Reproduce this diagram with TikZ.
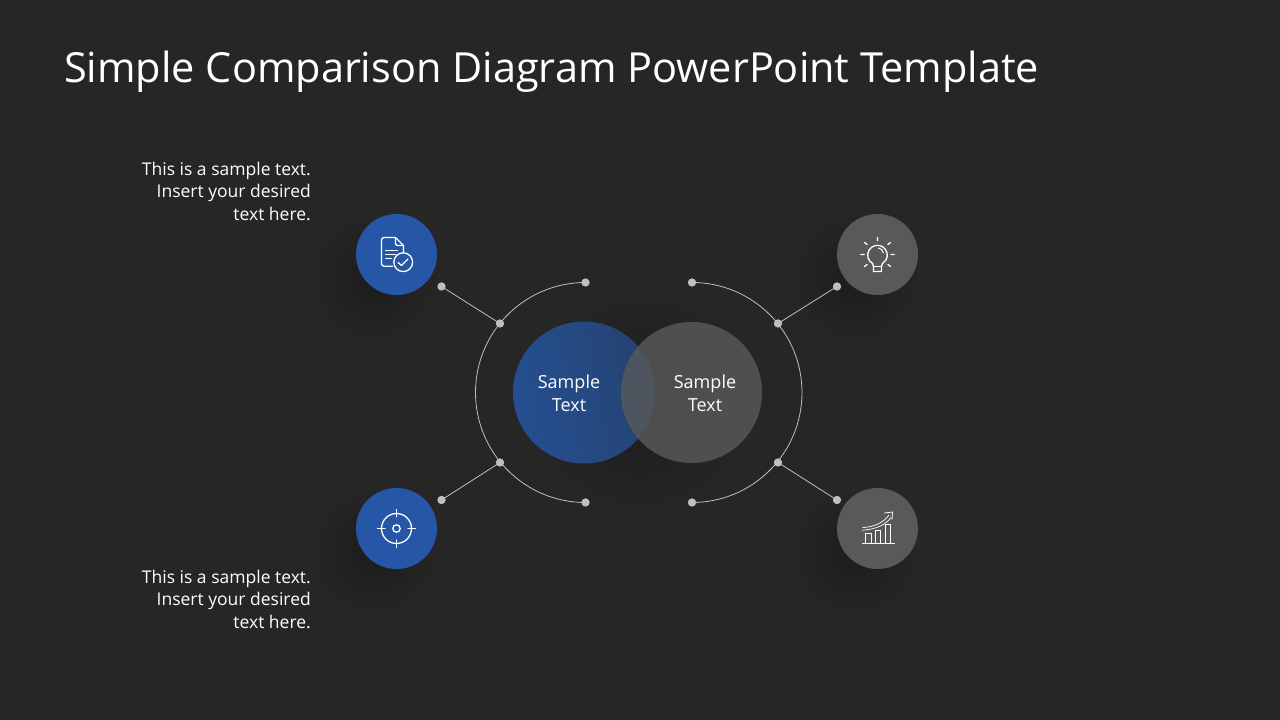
\documentclass[tikz,border=0pt]{standalone}
\usepackage{fontspec}
\setmainfont{Open Sans}
\usetikzlibrary{shadings,fadings}
\definecolor{bgc}{HTML}{262626}
\definecolor{bluec}{HTML}{2557A6}
\definecolor{greyc}{HTML}{595959}
\definecolor{linec}{HTML}{BFBFBF}
\definecolor{vgrey}{HTML}{5A5A5A}
\tikzfading[name=softdisc,inner color=transparent!0,middle color=transparent!35,outer color=transparent!100]
\tikzset{
  x=1pt,y=1pt,
  dotn/.style={circle,fill=linec,draw=none,inner sep=0pt,minimum size=8pt},
  wire/.style={draw=linec,line width=0.8pt},
  disc/.style={circle,draw=none,inner sep=0pt,minimum size=81pt},
  softshadow/.style={fill=black,opacity=0.25,path fading=softdisc},
  icon/.style={draw=white,line width=1.3pt,line cap=round,line join=round},
  lbl/.style={text=white,font=\fontsize{17.5}{22.5}\selectfont,inner sep=0pt},
}
\begin{document}
\begin{tikzpicture}
\fill[bgc] (0,0) rectangle (1280,720);
\useasboundingbox (0,0) rectangle (1280,720);
% soft shadows
\fill[softshadow] (374,442) circle (62);
\fill[softshadow] (855,442) circle (62);
\fill[softshadow] (374,168) circle (62);
\fill[softshadow] (855,168) circle (62);
\fill[softshadow] (640,318) circle (110);
% title
\node[anchor=base west,text=white,inner sep=0pt,font=\fontsize{41.45}{48}\selectfont] (title) at (64,637) {Simple Comparison Diagram PowerPoint Template};
% arcs and connector dots
\node[dotn] (ltop) at (585.5,437.5) {};
\node[dotn] (lbot) at (585.5,217.5) {};
\node[dotn] (rtop) at (692,437.5) {};
\node[dotn] (rbot) at (692,217.5) {};
\node[dotn] (lu) at (500,396.5) {};
\node[dotn] (ld) at (500,257.5) {};
\node[dotn] (ru) at (778,396.5) {};
\node[dotn] (rd) at (778,257.5) {};
\node[dotn] (lue) at (441.5,433.5) {};
\node[dotn] (lde) at (441.5,220) {};
\node[dotn] (rue) at (837,433.5) {};
\node[dotn] (rde) at (837,220) {};
\draw[wire] (ltop.center) arc[start angle=90,end angle=270,radius=110];
\draw[wire] (rtop.center) arc[start angle=90,end angle=-90,radius=110];
\draw[wire] (lu.center) -- (lue.center);
\draw[wire] (ld.center) -- (lde.center);
\draw[wire] (ru.center) -- (rue.center);
\draw[wire] (rd.center) -- (rde.center);
\foreach \n in {ltop,lbot,rtop,rbot,lu,ld,ru,rd,lue,lde,rue,rde}{\fill[linec] (\n.center) circle (4);}
% central circles
\shade[left color=bluec!84!bgc,right color=bluec!58!bgc,shading angle=100] (584,327.5) circle (71);
\node[circle,fill=vgrey,fill opacity=0.8,inner sep=0pt,minimum size=141pt] (cright) at (691.5,327.5) {};
\node[lbl,align=center,font=\fontsize{18}{23}\selectfont] (tleft) at (569,327) {Sample\\Text};
\node[lbl,align=center,font=\fontsize{18}{23}\selectfont] (tright) at (705,327) {Sample\\Text};
% outer discs
\node[disc,fill=bluec] (d1) at (396.5,465.5) {};
\node[disc,fill=greyc] (d2) at (877.5,465.5) {};
\node[disc,fill=bluec] (d3) at (396.5,191.5) {};
\node[disc,fill=greyc] (d4) at (877.5,191.5) {};
% document icon
\begin{scope}[shift={(d1.center)}]
\draw[icon] (-4,-11.7) -- (-12.5,-11.7) arc[start angle=270,end angle=180,radius=2.5] -- (-15,14.5) arc[start angle=180,end angle=90,radius=2.5] -- (-1,17) -- (7,9) -- (7,2.5);
\draw[icon] (-1,17) -- (-1,11) arc[start angle=180,end angle=270,radius=2] -- (7,9);
\draw[icon,line width=1pt] (-11,4) -- (1,4) (-11,0) -- (-1,0) (-11,-4) -- (-5,-4);
\draw[icon] (6.7,-7.7) circle (9.4);
\draw[icon] (1.5,-8) -- (5,-11) -- (11.5,-4.5);
\end{scope}
% bulb icon
\begin{scope}[shift={(d2.center)}]
\draw[icon] (-4.9,-9.1) arc[start angle=240,end angle=-60,radius=9.8] -- (4,-12) -- (4,-17) -- (-4,-17) -- (-4,-12) -- cycle;
\draw[icon] (-4,-12) -- (4,-12);
\draw[icon,line width=1pt] (1,6.5) arc[start angle=80,end angle=10,radius=6];
\draw[icon] (0,17) -- (0,13.8) (-16.8,0) -- (-13.4,0) (16.8,0) -- (13.4,0)
  (-13,12) -- (-10.4,10) (13,12) -- (10.4,10) (-13,-12) -- (-10.4,-10) (13,-12) -- (10.4,-10);
\end{scope}
% target icon
\begin{scope}[shift={(d3.center)}]
\draw[icon] (0,0) circle (15);
\draw[icon] (0,0) circle (3.7);
\draw[icon] (0,19) -- (0,11.5) (0,-19) -- (0,-11.5) (19,0) -- (11.5,0) (-19,0) -- (-11.5,0);
\end{scope}
% chart icon
\begin{scope}[shift={(d4.center)}]
\draw[icon,line width=0.9pt] (-15,-15.3) -- (17,-15.3);
\draw[icon,line width=0.7pt] (-11.7,-15.3) -- (-11.7,-4.7) -- (-6.3,-4.7) -- (-6.3,-15.3);
\draw[icon,line width=0.7pt] (-1.7,-15.3) -- (-1.7,-2.3) -- (3.3,-2.3) -- (3.3,-15.3);
\draw[icon,line width=0.7pt] (7.7,-15.3) -- (7.7,3.7) -- (13,3.7) -- (13,-15.3);
\draw[icon,line width=0.7pt] (-15,0.8) .. controls (-2,2) and (6,6) .. (11.5,13.5);
\draw[icon,line width=0.7pt] (-15,-1.8) .. controls (-1,-0.5) and (8,3.5) .. (13.5,11);
\draw[icon,line width=0.8pt] (7,15.5) -- (15,16.5) -- (14.5,9);
\end{scope}
% side texts
\node[lbl,anchor=east,align=right] (note1) at (311,529) {This is a sample text.\\Insert your desired\\text here.};
\node[lbl,anchor=east,align=right] (note2) at (311,121) {This is a sample text.\\Insert your desired\\text here.};
\end{tikzpicture}
\end{document}
